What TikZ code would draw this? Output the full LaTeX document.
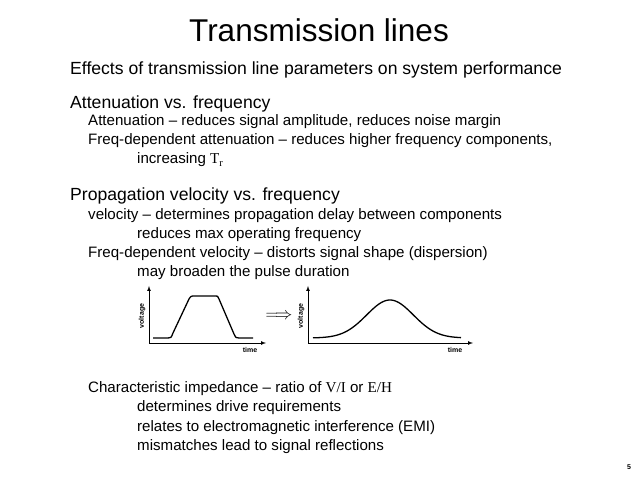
\documentclass[tikz,border=0pt]{standalone}
\usepackage{fontspec}
\setmainfont{Liberation Sans}
\newfontfamily\serifb{Liberation Serif}
\begin{document}
\begin{tikzpicture}[x=1pt,y=-1pt,
  big/.style={anchor=west,inner sep=0,font=\fontsize{17.6}{20}\selectfont},
  sm/.style={anchor=west,inner sep=0,font=\fontsize{15.1}{17}\selectfont},
  ax/.style={-latex,line width=0.7pt},
  cv/.style={line width=1.3pt,line join=round},
  lab/.style={inner sep=0,font=\fontsize{7}{8}\selectfont\bfseries}]
\useasboundingbox (0,0) rectangle (638,478);
\node[inner sep=0,font=\fontsize{31.5}{34}\selectfont] (t) at (319,30) {Transmission lines};
\node[big] (e) at (70,70) {Effects of transmission line parameters on system performance};
\node[big] (a) at (70,104) {Attenuation vs. frequency};
\node[sm] (a1) at (88,122) {Attenuation -- reduces signal amplitude, reduces noise margin};
\node[sm] (a2) at (88,141) {Freq-dependent attenuation -- reduces higher frequency components,};
\node[sm] (a3) at (137,160) {increasing {\serifb T\textsubscript{r}}};
\node[big] (p) at (70,196) {Propagation velocity vs. frequency};
\node[sm] (p1) at (88,216) {velocity -- determines propagation delay between components};
\node[sm] (p2) at (137,235) {reduces max operating frequency};
\node[sm] (p3) at (88,254) {Freq-dependent velocity -- distorts signal shape (dispersion)};
\node[sm] (p4) at (137,273) {may broaden the pulse duration};
% left plot
\coordinate (o1) at (149,343);
\draw[ax] (o1) -- (149,286);
\draw[ax] (o1) -- (266,343);
\draw[cv] (153,338) -- (168,338) .. controls (171,338) .. (173,333) -- (189,299) .. controls (191,296) .. (195,296) -- (214,296) .. controls (218,296) .. (219,299) -- (234,334) .. controls (236,338) .. (239,338) -- (253,338);
\node[lab] (tl1) at (250,350) {time};
\node[lab,rotate=90] (vl1) at (142,316) {voltage};
% arrow
\node[inner sep=0,font=\fontsize{16}{16}\selectfont] (ar) at (279,316) {$\Longrightarrow$};
% right plot
\coordinate (o2) at (308,343);
\draw[ax] (o2) -- (308,286);
\draw[ax] (o2) -- (473,343);
\draw[cv,domain=313:461,samples=80,smooth] plot (\x,{338-38*exp(-((\x-390)/33)^2)});
\node[lab] (tl2) at (455,350) {time};
\node[lab,rotate=90] (vl2) at (301,316) {voltage};
\node[sm] (c1) at (88,389) {Characteristic impedance -- ratio of {\serifb V/I} or {\serifb E/H}};
\node[sm] (c2) at (137,408) {determines drive requirements};
\node[sm] (c3) at (137,428) {relates to electromagnetic interference (EMI)};
\node[sm] (c4) at (137,447) {mismatches lead to signal reflections};
\node[inner sep=0,font=\fontsize{7}{8}\selectfont\bfseries] (n) at (629,467) {5};
\end{tikzpicture}
\end{document}
